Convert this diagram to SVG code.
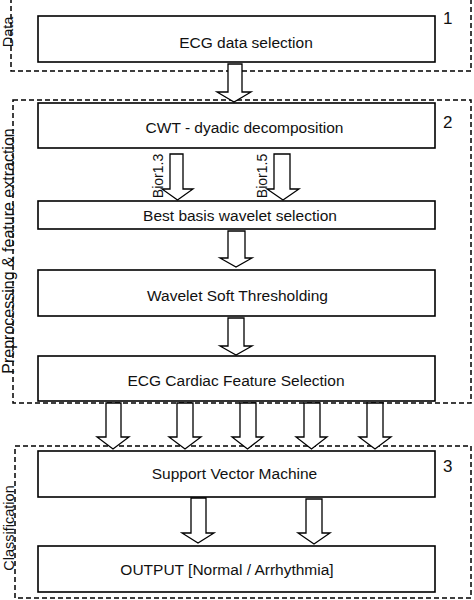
<svg xmlns="http://www.w3.org/2000/svg" width="474" height="600" viewBox="0 0 474 600">
<style>
.box{fill:#fff;stroke:#000;stroke-width:1.6}
.grp{fill:none;stroke:#000;stroke-width:1.5;stroke-dasharray:5,3}
.arr{fill:#fff;stroke:#000;stroke-width:1.3;stroke-linejoin:miter}
.t{font-family:"Liberation Sans",Arial,sans-serif;font-size:15.5px;fill:#111;text-anchor:middle}
.n{font-family:"Liberation Sans",Arial,sans-serif;font-size:17px;fill:#111}
.s{font-family:"Liberation Sans",Arial,sans-serif;font-size:14.5px;fill:#111;text-anchor:middle}
.b{font-family:"Liberation Sans",Arial,sans-serif;font-size:14px;fill:#111;text-anchor:middle}
</style>
<rect width="474" height="600" fill="#fff"/>
<g id="group-data">
<rect class="grp" x="11" y="-5" width="460" height="76"/>
<text class="s" transform="translate(13,32) rotate(-90)">Data</text>
<text class="n" x="443" y="24">1</text>
</g>
<g id="group-preprocessing">
<rect class="grp" x="13" y="100" width="458" height="303"/>
<text class="s" style="font-size:16px" transform="translate(14,251) rotate(-90)">Preprocessing &amp; feature extraction</text>
<text class="n" x="443" y="128">2</text>
</g>
<g id="group-classification">
<rect class="grp" x="15" y="446" width="456" height="152"/>
<text class="s" transform="translate(14,528) rotate(-90)">Classification</text>
<text class="n" x="443" y="472">3</text>
</g>
<g id="node-ecg-data">
<rect class="box" x="38" y="16" width="397" height="46"/>
<text class="t" x="246" y="48">ECG data selection</text>
</g>
<g id="node-cwt">
<rect class="box" x="38" y="103" width="397" height="45"/>
<text class="t" x="244.5" y="133">CWT - dyadic decomposition</text>
</g>
<g id="node-best-basis">
<rect class="box" x="38" y="201" width="397" height="28"/>
<text class="t" x="240" y="221">Best basis wavelet selection</text>
</g>
<g id="node-soft-threshold">
<rect class="box" x="38" y="270" width="397" height="46"/>
<text class="t" x="237.5" y="301">Wavelet Soft Thresholding</text>
</g>
<g id="node-feature-selection">
<rect class="box" x="38" y="356" width="397" height="45"/>
<text class="t" x="236" y="386">ECG Cardiac Feature Selection</text>
</g>
<g id="node-svm">
<rect class="box" x="38" y="451" width="397" height="46"/>
<text class="t" x="234.5" y="479">Support Vector Machine</text>
</g>
<g id="node-output">
<rect class="box" x="38" y="546" width="397" height="46"/>
<text class="t" x="227" y="575">OUTPUT [Normal / Arrhythmia]</text>
</g>
<g id="connectors">
<path class="arr" d="M228 64 H242 V92 H251 L234 102 L217 92 H228 Z"/>
<path class="arr" d="M170 154 H183 V189 H193 L177.5 200 L162 189 H170 Z"/>
<path class="arr" d="M274 154 H290 V189 H299 L283 200 L267 189 H274 Z"/>
<text class="b" transform="translate(163,176) rotate(-90)">Bior1.3</text>
<text class="b" transform="translate(267,176) rotate(-90)">Bior1.5</text>
<path class="arr" d="M228 231 H245 V258 H252 L236 267 L220 258 H228 Z"/>
<path class="arr" d="M228 318 H244 V346 H252 L236 355 L220 346 H228 Z"/>
<path class="arr" d="M106 403 H121 V437 H129 L113 449 L97 437 H106 Z"/>
<path class="arr" d="M177 403 H193 V437 H201 L185 449 L169 437 H177 Z"/>
<path class="arr" d="M240 403 H256 V437 H263 L247.5 449 L232 437 H240 Z"/>
<path class="arr" d="M304 403 H320 V437 H327 L311.5 449 L296 437 H304 Z"/>
<path class="arr" d="M367 403 H383 V437 H391 L375 449 L359 437 H367 Z"/>
<path class="arr" d="M191 498 H206 V533 H214 L198 543 L182 533 H191 Z"/>
<path class="arr" d="M306 499 H322 V533 H330 L314 544 L298 533 H306 Z"/>
</g>
</svg>
